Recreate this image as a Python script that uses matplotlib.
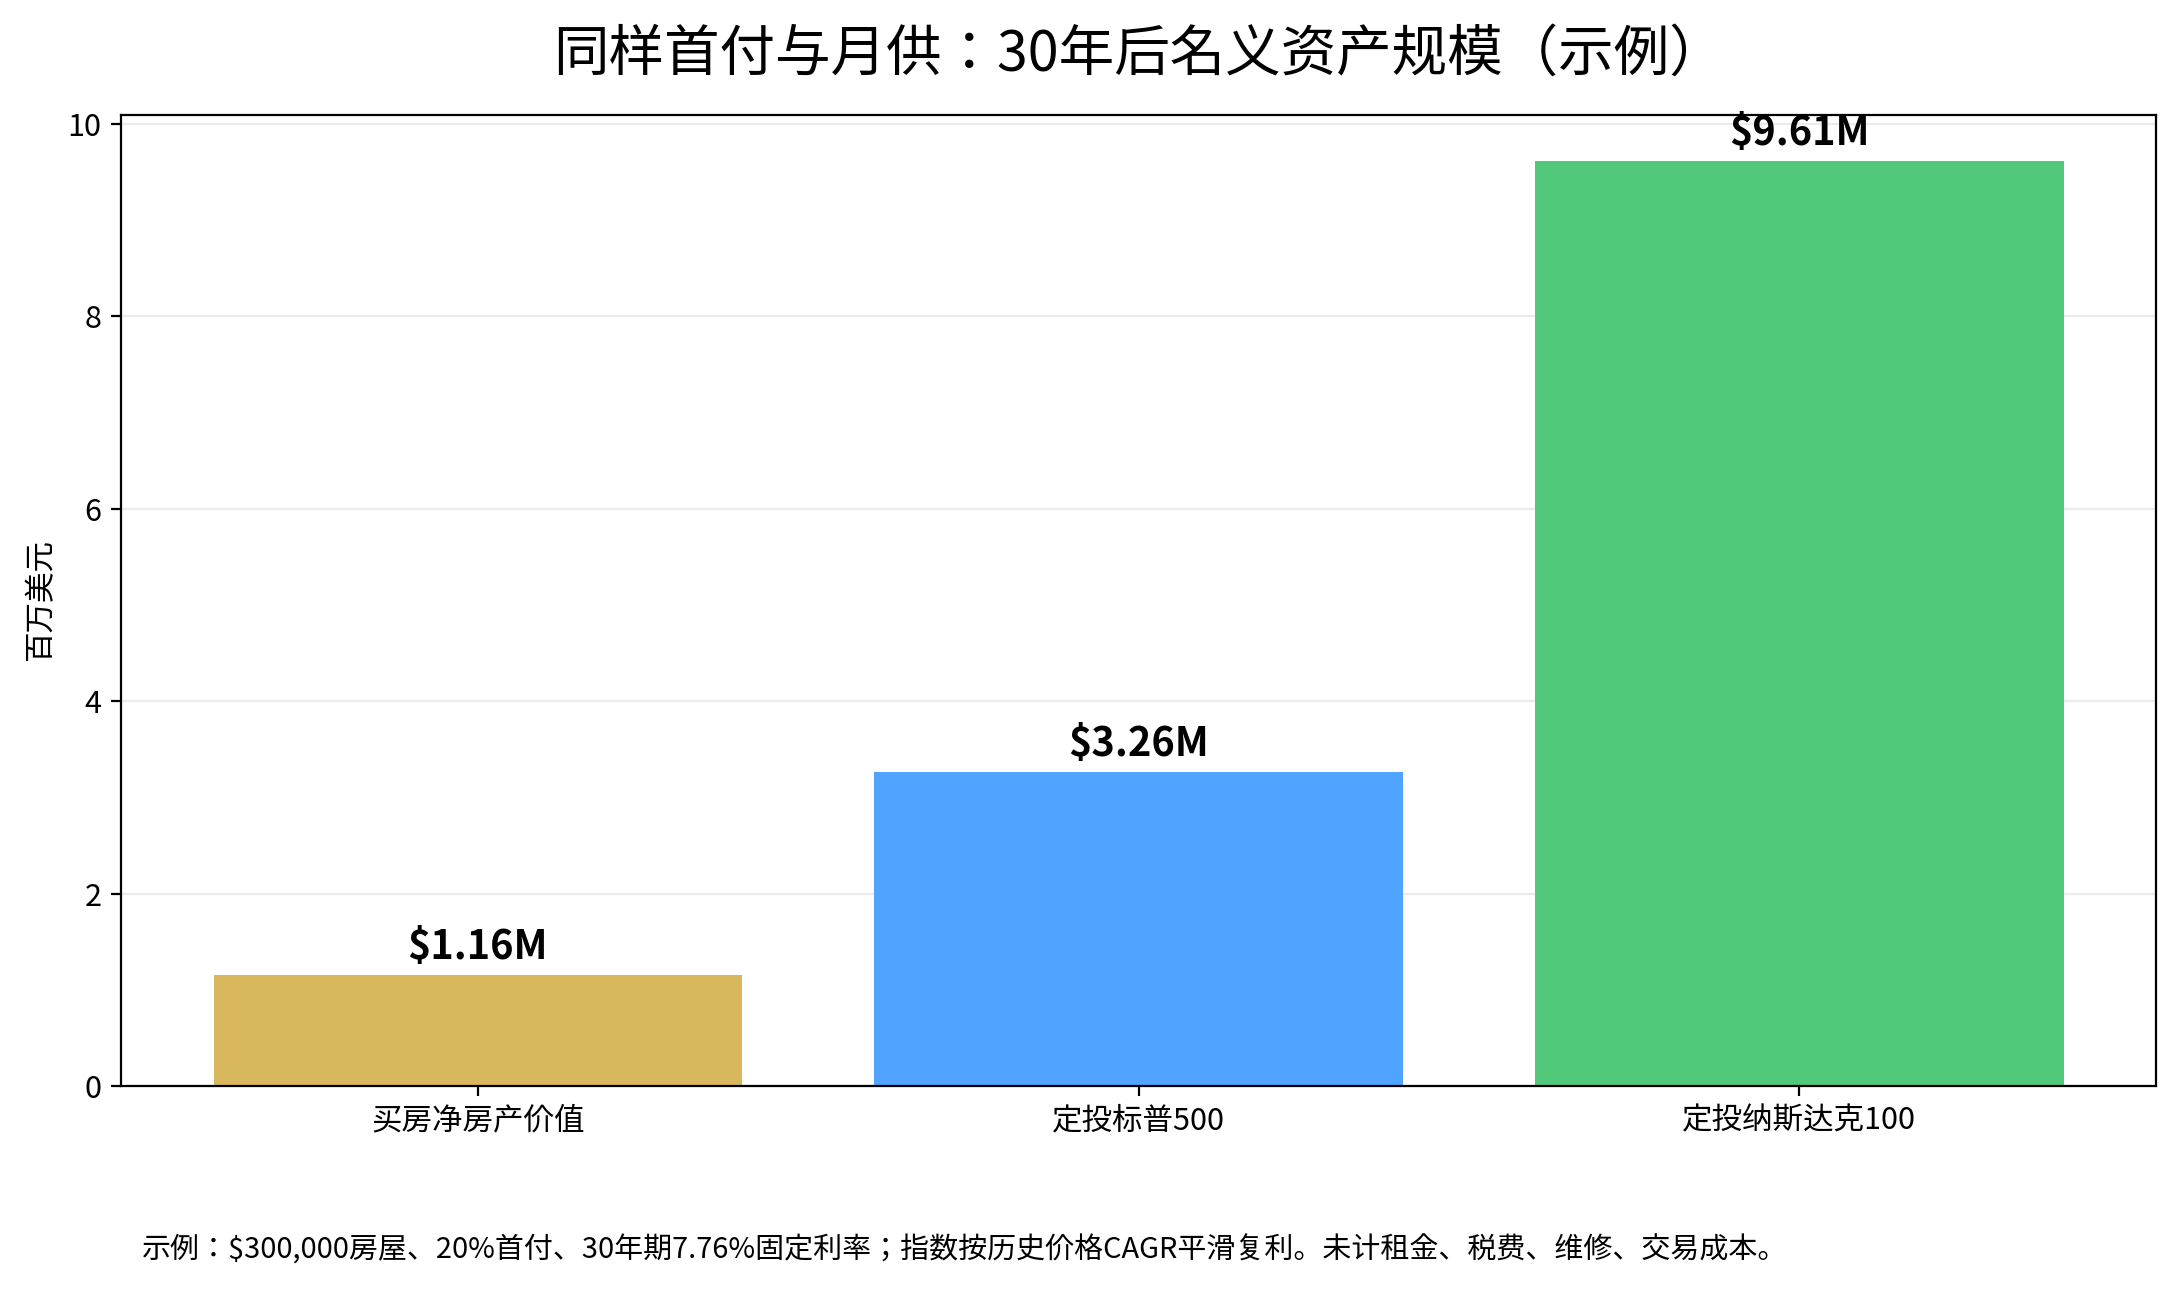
import matplotlib
matplotlib.use("Agg")
import matplotlib.pyplot as plt

plt.rcParams['font.family'] = ['Noto Sans CJK JP', 'DejaVu Sans']
plt.rcParams['axes.unicode_minus'] = False

# data
categories = ['买房净房产价值', '定投标普500', '定投纳斯达克100']
values = [1.16, 3.26, 9.61]  # 百万美元
labels = ['$1.16M', '$3.26M', '$9.61M']
colors = ['#D8B75D', '#50A3FF', '#52C97A']

title = '同样首付与月供：30年后名义资产规模（示例）'
note = '示例：$300,000房屋、20%首付、30年期7.76%固定利率；指数按历史价格CAGR平滑复利。未计租金、税费、维修、交易成本。'

fig = plt.figure(figsize=(10.89, 6.45), dpi=200)
ax = fig.add_axes([0.0556, 0.158, 0.9344, 0.753])

bars = ax.bar(categories, values, width=0.8, color=colors, zorder=2)
ax.set_ylim(0, max(values) * 1.05)
ax.grid(axis='y', color='#e6e6e6', linewidth=0.8, alpha=0.8, zorder=0)
ax.set_axisbelow(True)

# value labels above bars
for b, lab in zip(bars, labels):
    ax.annotate(lab, (b.get_x() + b.get_width() / 2, b.get_height()),
                xytext=(0, 2.5), textcoords='offset points',
                ha='center', va='bottom', fontsize=14.3, fontweight='bold')

ax.set_title(title, fontsize=20, pad=16)
ax.set_ylabel('百万美元', fontsize=11)
ax.tick_params(axis='both', labelsize=11)

fig.text(0.065, 0.031, note, fontsize=10.45, ha='left', va='center')

fig.savefig('out.png', dpi=200)
